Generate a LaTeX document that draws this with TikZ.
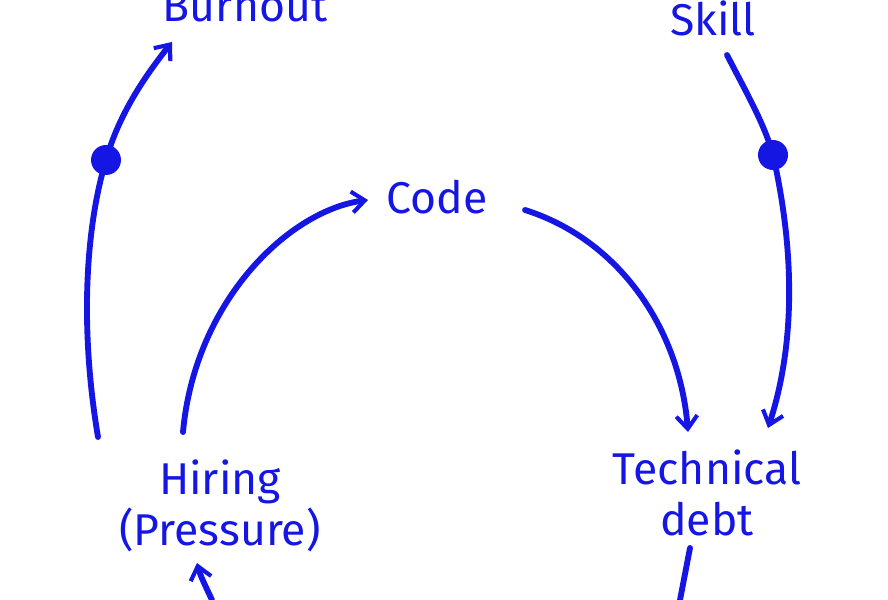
\documentclass[tikz,border=0pt]{standalone}
\usepackage{fontspec}
\setmainfont{Fira Sans}
\usetikzlibrary{arrows.meta}
\definecolor{ink}{RGB}{22,22,228}
\begin{document}
\begin{tikzpicture}[x=0.03cm,y=-0.03cm,
  lbl/.style={text=ink,font=\fontsize{38}{44}\selectfont,align=center,inner sep=0pt},
  con/.style={draw=ink,line width=5pt,line cap=round,-{Straight Barb[length=11pt,width=18pt,line width=3.5pt]}},
  plain/.style={draw=ink,line width=5pt,line cap=round},
  dotn/.style={circle,fill=ink,minimum size=0.9cm,inner sep=0pt}]
\useasboundingbox (0,0) rectangle (888,600);
\clip (0,0) rectangle (888,600);
\node[lbl] (bu) at (245,6) {Burnout};
\node[lbl] (skill) at (713,18) {Skill};
\node[lbl] (code) at (437,197) {Code};
\node[lbl] (td) at (707,493) {Technical\\debt};
\node[lbl] (hp) at (220,506) {Hiring\\(Pressure)};
\coordinate (l0) at (98,437);
\coordinate (r0) at (727,55);
\coordinate (b0) at (212,600);
\coordinate (t1) at (680,600);
\node[dotn] (d1) at (106,160) {};
\node[dotn] (d2) at (773,155) {};
\draw[plain] (l0) .. controls (80,330) and (85,230) .. (d1.center);
\draw[con] (d1.center) .. controls (120,110) and (150,70) .. (172,42);
\draw[plain] (r0) .. controls (745,90) and (765,125) .. (d2.center);
\draw[con] (d2.center) .. controls (790,230) and (800,330) .. (768,428);
\draw[con] (183,432) .. controls (195,300) and (290,210) .. (368,200);
\draw[con] (525,210) .. controls (620,240) and (680,330) .. (688,432);
\draw[plain] (690,548) -- (t1);
\draw[con] (b0) .. controls (205,585) and (200,575) .. (197,563);
\end{tikzpicture}
\end{document}
